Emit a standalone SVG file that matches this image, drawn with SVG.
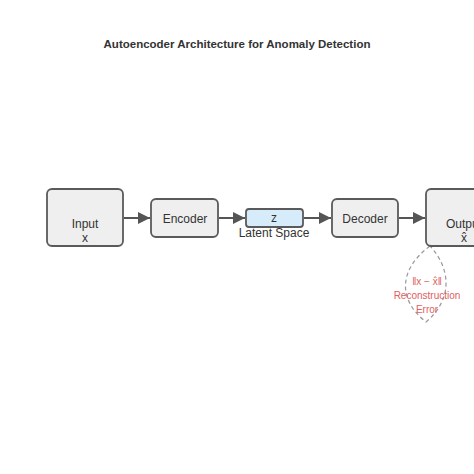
<svg xmlns="http://www.w3.org/2000/svg" width="474" height="474" viewBox="0 0 474 474">
<style>
.box{fill:#efefef;stroke:#5a5a5a;stroke-width:1.8}
.lat{fill:#d7ecfb;stroke:#5a5a5a;stroke-width:1.8}
.t{font-family:"Liberation Sans",Arial,sans-serif;font-size:12px;fill:#333;text-anchor:middle}
.err{font-family:"Liberation Sans",Arial,sans-serif;font-size:10px;fill:#e06060;text-anchor:middle}
.edge{stroke:#555;stroke-width:2;fill:none;marker-end:url(#ah)}
</style>
<defs>
<marker id="ah" viewBox="0 0 10 10" refX="10" refY="5" markerWidth="6" markerHeight="6" markerUnits="strokeWidth" orient="auto">
<path d="M0,0 L10,5 L0,10 z" fill="#555"/>
</marker>
</defs>
<rect width="474" height="474" fill="#fff"/>
<text x="237" y="48" class="t" style="font-weight:bold;font-size:11.5px">Autoencoder Architecture for Anomaly Detection</text>
<g id="connectors">
<line class="edge" x1="124" y1="218" x2="150" y2="218"/>
<line class="edge" x1="219" y1="218" x2="245" y2="218"/>
<line class="edge" x1="304" y1="218" x2="331" y2="218"/>
<line class="edge" x1="399" y1="218" x2="425" y2="218"/>
<path d="M430,246 C398,270 398,300 426,322 C452,300 452,270 430,246 Z" fill="none" stroke="#999" stroke-width="1.2" stroke-dasharray="4,3"/>
</g>
<g id="input">
<rect class="box" x="47" y="189" width="76" height="57" rx="5"/>
<text class="t" x="85" y="228">Input</text>
<text class="t" x="85" y="242">x</text>
</g>
<g id="encoder">
<rect class="box" x="151" y="199" width="67" height="38" rx="5"/>
<text class="t" x="185" y="223">Encoder</text>
</g>
<g id="latent">
<rect class="lat" x="246" y="209" width="57" height="18" rx="3"/>
<text class="t" x="274" y="222">z</text>
<text class="t" x="274" y="237">Latent Space</text>
</g>
<g id="decoder">
<rect class="box" x="332" y="199" width="66" height="38" rx="5"/>
<text class="t" x="365" y="223">Decoder</text>
</g>
<g id="output">
<rect class="box" x="426" y="189" width="76" height="57" rx="5"/>
<text class="t" x="464" y="228">Output</text>
<text class="t" x="464" y="242">x̂</text>
</g>
<g id="error">
<text class="err" x="427" y="285">‖x − x̂‖</text>
<text class="err" x="427" y="299">Reconstruction</text>
<text class="err" x="427" y="313">Error</text>
</g>
</svg>
